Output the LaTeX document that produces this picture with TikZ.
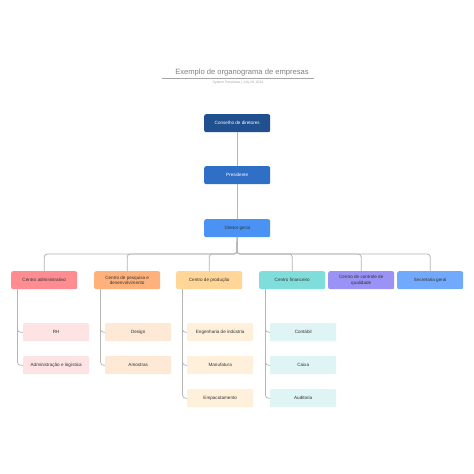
\documentclass[tikz,border=0pt]{standalone}
\usepackage{fontspec}
\setmainfont{Liberation Sans}
\definecolor{cdir}{HTML}{21508F}
\definecolor{cpres}{HTML}{2F6FC6}
\definecolor{cdg}{HTML}{4A93F5}
\definecolor{cadm}{HTML}{FE8C91}
\definecolor{cpes}{HTML}{FFB17B}
\definecolor{cpro}{HTML}{FFD697}
\definecolor{cfin}{HTML}{7FDEDB}
\definecolor{cctl}{HTML}{9A92F4}
\definecolor{csec}{HTML}{71A9FC}
\definecolor{ladm}{HTML}{FEE3E4}
\definecolor{lpes}{HTML}{FEE8D6}
\definecolor{lpro}{HTML}{FFF0DC}
\definecolor{lfin}{HTML}{DFF4F4}
\definecolor{linec}{HTML}{B5B5B5}
\definecolor{txt}{HTML}{333333}
\begin{document}
\begin{tikzpicture}[x=1pt,y=-1pt,
  topbox/.style={rounded corners=2pt, minimum width=66pt, minimum height=18pt, inner sep=1pt,
    font=\fontsize{4.6}{5.4}\selectfont, text=white, anchor=north west},
  midbox/.style={rounded corners=2pt, minimum width=66pt, minimum height=18pt, inner sep=1pt,
    align=center, font=\fontsize{4.6}{5.4}\selectfont, text=txt, anchor=north west},
  leafbox/.style={rounded corners=1pt, minimum width=66pt, minimum height=18pt, inner sep=1pt,
    font=\fontsize{4.6}{5.4}\selectfont, text=txt, anchor=north west},
  conn/.style={draw=linec, line width=0.9pt},
  bus/.style={draw=linec, line width=0.8pt, rounded corners=3pt},
  leafconn/.style={draw=linec, line width=0.7pt, rounded corners=3pt}]
\useasboundingbox (0,0) rectangle (474,474);
\fill[white] (0,0) rectangle (474,474);

% title
\node[font=\fontsize{7.6}{9}\selectfont, text=black!50] (title) at (242,73) {Exemplo de organograma de empresas};
\draw[black!35, line width=0.5pt] (162,78.5) -- (314,78.5);
\node[font=\fontsize{3.4}{4}\selectfont, text=black!35] (sub) at (238,83) {System Templates \textbar{} July 28, 2024};

% top chain
\node[topbox, fill=cdir] (cons) at (204,114) {Conselho de diretores};
\node[topbox, fill=cpres] (pres) at (204,166) {Presidente};
\node[topbox, fill=cdg, text=txt] (dg) at (204,219) {Diretor geral};
\draw[conn] (cons.south) -- (pres.north);
\draw[conn] (pres.south) -- (dg.north);

% level 2
\node[midbox, fill=cadm] (adm) at (11,271) {Centro administrativo};
\node[midbox, fill=cpes] (pes) at (94,271) {Centro de pesquisa e\\desenvolvimento};
\node[midbox, fill=cpro] (pro) at (176,271) {Centro de produção};
\node[midbox, fill=cfin] (fin) at (259,271) {Centro financeiro};
\node[midbox, fill=cctl] (ctl) at (328,271) {Centro de controle de\\qualidade};
\node[midbox, fill=csec] (sec) at (397,271) {Secretaria geral};

\coordinate (busc) at (237,254);
\foreach \n in {adm,pes,pro,fin,ctl,sec}{
  \draw[bus] (dg.south) -- (busc) -| (\n.north);
}

% leaves
\node[leafbox, fill=ladm] (rh) at (23,323) {RH};
\node[leafbox, fill=ladm] (alog) at (23,356) {Administração e logística};
\node[leafbox, fill=lpes] (des) at (105,323) {Design};
\node[leafbox, fill=lpes] (amo) at (105,356) {Amostras};
\node[leafbox, fill=lpro] (eng) at (187,323) {Engenharia de indústria};
\node[leafbox, fill=lpro] (man) at (187,356) {Manufatura};
\node[leafbox, fill=lpro] (emp) at (187,389) {Empacotamento};
\node[leafbox, fill=lfin] (cont) at (270,323) {Contábil};
\node[leafbox, fill=lfin] (cai) at (270,356) {Caixa};
\node[leafbox, fill=lfin] (aud) at (270,389) {Auditoria};

\foreach \p/\c in {adm/rh,adm/alog,pes/des,pes/amo,pro/eng,pro/man,pro/emp,fin/cont,fin/cai,fin/aud}{
  \draw[leafconn] ([xshift=6.5pt]\p.south west) |- (\c.west);
}
\end{tikzpicture}
\end{document}
